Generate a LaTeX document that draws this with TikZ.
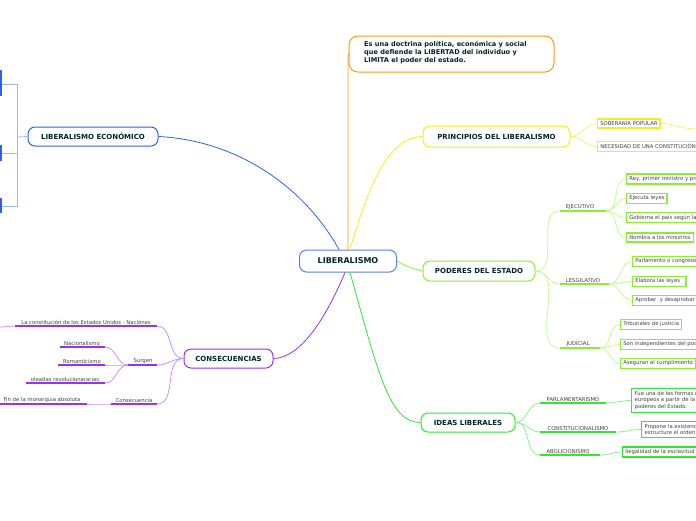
\documentclass[tikz,border=0pt]{standalone}
\usepackage{fontspec}
\setmainfont{DejaVu Sans}
\begin{document}
\begin{tikzpicture}[x=1pt,y=-1pt,
  hd/.style={draw, line width=1pt, rounded corners=7pt, fill=white, font=\fontsize{7}{8}\selectfont\bfseries, text=black!70!teal, inner sep=0pt},
  lf/.style={draw, line width=1.4pt, fill=white, font=\fontsize{5.3}{6.3}\selectfont, text=black!75, anchor=west, inner sep=2.6pt, align=left},
  lb/.style={font=\fontsize{5.3}{6.3}\selectfont, text=black!75, anchor=south, inner sep=1pt},
  ul/.style={line width=1.4pt}]
\useasboundingbox (0,0) rectangle (696,520);
\clip (0,0) rectangle (696,520);
\definecolor{cblue}{HTML}{2F5FF0}\definecolor{lblue}{HTML}{99B8FF}
\definecolor{cyel}{HTML}{F0F020}\definecolor{lyel}{HTML}{F4F46A}
\definecolor{cgy}{HTML}{88F030}\definecolor{lgy}{HTML}{C4FA90}
\definecolor{cgr}{HTML}{30E830}\definecolor{lgr}{HTML}{90F090}
\definecolor{cpu}{HTML}{9A30F0}\definecolor{lpu}{HTML}{C890FA}
\definecolor{cor}{HTML}{FF9A10}
% central
\node[hd, draw=cblue!80, minimum width=97, minimum height=22, font=\fontsize{8}{9}\selectfont\bfseries] (c) at (348,261) {LIBERALISMO};
\node[draw=cor, line width=1pt, rounded corners=9pt, minimum width=205, minimum height=36, inner sep=0pt] (def) at (451.5,54) {};
\node[font=\fontsize{6.6}{8}\selectfont\bfseries, text=black!70!teal, align=left, anchor=north west, inner sep=0pt] (deft) at (364,41) {Es una doctrina política, económica y social\\que defiende la LIBERTAD del individuo y\\LIMITA el poder del estado.};
\node[hd, draw=cblue, minimum width=130, minimum height=19] (eco) at (93,136.5) {LIBERALISMO ECONÓMICO};
\node[hd, draw=cyel, minimum width=147, minimum height=21] (pri) at (496.5,136.5) {PRINCIPIOS DEL LIBERALISMO};
\node[hd, draw=cgy, minimum width=112, minimum height=20] (pod) at (479,271) {PODERES DEL ESTADO};
\node[hd, draw=cgr, minimum width=94, minimum height=19] (ide) at (468,422.5) {IDEAS LIBERALES};
\node[hd, draw=cpu, minimum width=89, minimum height=19] (con) at (228.5,358.5) {CONSECUENCIAS};
% main connectors
\draw[cblue, line width=0.8pt] (c.north west)++(40,0) coordinate (c1) (c1) .. controls (300,180) and (230,140) .. (eco.east);
\draw[cor, line width=0.8pt] (c.north) -- (348,70) .. controls (348,55) .. (def.west);
\draw[cyel, line width=0.8pt] (c.north)++(2,0) coordinate (c2) (c2) .. controls (370,180) and (390,137) .. (pri.west);
\draw[cgy, line width=0.8pt] (c.east) .. controls (410,268) .. (pod.west);
\draw[cgr, line width=0.8pt] (c.south)++(2,0) coordinate (c3) (c3) .. controls (380,380) and (390,422) .. (ide.west);
\draw[cpu, line width=0.8pt] (c.south)++(-3,0) coordinate (c4) (c4) .. controls (325,320) and (300,358) .. (con.east);
% economico
\coordinate (ej) at (17,137);
\draw[lblue, line width=0.8pt] (eco.west) -- (ej);
\coordinate (e1) at (2,84);\coordinate (e2) at (2,153);\coordinate (e3) at (2,206);
\draw[lblue, line width=0.8pt] (e1) -| (17,206) -- (e3) (e2) -- (17,153);
\draw[cblue, line width=1.5pt] (1,70) -- (1,96) (1,145) -- (1,161) (1,198) -- (1,213);
% principios
\node[lf, draw=cyel] (p1) at (597,123.5) {SOBERANIA POPULAR};
\node[lf, draw=cyel] (p2) at (597,146.5) {NECESIDAD DE UNA CONSTITUCIÓN};
\coordinate (pe) at (696,129);
\draw[lyel, line width=0.8pt] (pri.east) to[out=0,in=180] (p1.west) (pri.east) to[out=0,in=180] (p2.west) (p1.east) to[out=0,in=180] (pe);
% poderes
\foreach \n/\t/\x/\y/\a/\b in {ej/EJECUTIVO/580/211/560/606, le/LESGILATIVO/583/284/560/609, ju/JUDICIAL/578/348/560/600}{
  \node[lb] (\n) at (\x,\y) {\t};
  \coordinate (\n a) at (\a,\y);\coordinate (\n b) at (\b,\y);
  \draw[cgy, ul] (\n a) -- (\n b);
  \draw[lgy, line width=0.8pt] (pod.east) to[out=0,in=180] (\n a);
}
\node[lf, draw=cgy] (x1) at (626,179) {Rey, primer ministro y presidente};
\node[lf, draw=cgy] (x2) at (626,198.5) {Ejecuta leyes};
\node[lf, draw=cgy] (x3) at (626,217.5) {Gobierna el país según las leyes};
\node[lf, draw=cgy] (x4) at (626,237.5) {Nombra a los ministros};
\node[lf, draw=cgy] (y1) at (632,261.5) {Parlamento o congreso};
\node[lf, draw=cgy] (y2) at (632,281.5) {Elabora las leyes\ \ };
\node[lf, draw=cgy] (y3) at (632,300.5) {Aprobar \ y desaprobar};
\node[lf, draw=cgy] (z1) at (620,324.5) {Tribunales de justicia};
\node[lf, draw=cgy] (z2) at (620,344.5) {Son independientes del poder};
\node[lf, draw=cgy] (z3) at (620,363.5) {Aseguran el cumplimiento};
\foreach \s/\k in {ejb/x1,ejb/x2,ejb/x3,ejb/x4,leb/y1,leb/y2,leb/y3,jub/z1,jub/z2,jub/z3}
  \draw[lgy, line width=0.8pt] (\s) to[out=0,in=180] (\k.west);
% ideas
\foreach \n/\t/\x/\y/\a/\b in {pa/PARLAMENTARISMO/573/403/540/606, co/CONSTITUCIONALISMO/578/432/540/616, ab/ABOLICIONISMO/568/455/540/600}{
  \node[lb] (\n) at (\x,\y) {\t};
  \coordinate (\n a) at (\a,\y);\coordinate (\n b) at (\b,\y);
  \draw[cgr, ul] (\n a) -- (\n b);
  \draw[lgr, line width=0.8pt] (ide.east) to[out=0,in=180] (\n a);
}
\node[lf, draw=cgr, inner sep=3pt] (i1) at (631,400.5) {Fue una de las formas de gobierno\\europeos a partir de la división\\poderes del Estado.};
\node[lf, draw=cgr, inner sep=3pt] (i2) at (641,429.5) {Propone la existencia de una ley\\estructure el orden};
\node[lf, draw=cgr] (i3) at (622,452) {Ilegalidad de la esclavitud};
\draw[lgr, line width=0.8pt] (pab) to[out=0,in=180] (i1.west) (cob) to[out=0,in=180] (i2.west) (abb) to[out=0,in=180] (i3.west);
% consecuencias
\foreach \n/\t/\x/\y/\a/\b in {k1/La constitución de los Estados Unidos - Naciónes/86/326/15/157, su/Surgen/143/365/128/157, k5/Consecuencia/134/404/111/157}{
  \node[lb] (\n) at (\x,\y) {\t};
  \coordinate (\n a) at (\a,\y);\coordinate (\n b) at (\b,\y);
  \draw[cpu, ul] (\n a) -- (\n b);
  \draw[lpu, line width=0.8pt] (con.west) to[out=180,in=0] (\n b);
}
\coordinate (k1z) at (0,327);
\draw[lpu, line width=0.8pt] (k1a) to[out=180,in=0] (k1z);
\foreach \n/\t/\x/\y/\a/\b/\p in {k2/Nacionalismo/82/347/60/105/sua, k3/Romanticismo/82/365/58/105/sua, k4/oleadas revolucionararias/65/383/26/105/sua, k6/Fin de la monarquia absoluta/42/404/0/87/k5a}{
  \node[lb] (\n) at (\x,\y) {\t};
  \coordinate (\n a) at (\a,\y);\coordinate (\n b) at (\b,\y);
  \draw[cpu, ul] (\n a) -- (\n b);
  \draw[lpu, line width=0.8pt] (\p) to[out=180,in=0] (\n b);
}
\end{tikzpicture}
\end{document}
